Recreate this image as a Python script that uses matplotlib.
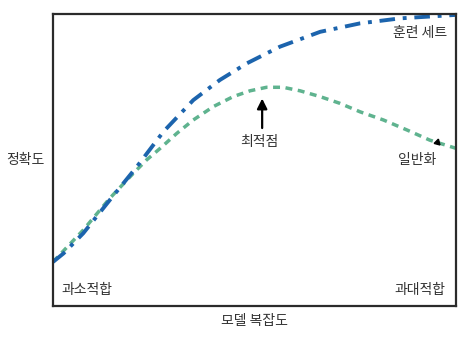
import matplotlib
matplotlib.use("Agg")
import matplotlib.pyplot as plt

plt.rcParams['font.family'] = ['Noto Sans CJK KR', 'DejaVu Sans']

# 모델 복잡도 (0~100) 에 따른 정확도 (0~100)
train_x = [0, 2.6, 7.5, 14.1, 20.8, 27.4, 34.8, 41.4, 48.1, 56.3, 66.3, 76.2, 86.1, 100]
train_y = [15.1, 18.0, 24.9, 36.3, 47.7, 59.7, 70.5, 77.4, 83.1, 88.8, 93.9, 96.8, 98.5, 99.7]

gen_x = [0, 7.5, 14.1, 19.9, 23.2, 26.6, 30.7, 34.8, 39.8, 44.7, 48.9, 53.0, 57.1,
         61.3, 66.3, 71.2, 76.2, 82.0, 87.8, 93.5, 100]
gen_y = [15.1, 26.0, 36.9, 45.4, 50.0, 54.0, 59.1, 63.7, 68.3, 71.7, 73.7, 74.9, 74.9,
         73.7, 71.7, 69.4, 66.5, 63.7, 60.3, 56.8, 54.0]

best_x, best_y = 51.9, 74.5

fig = plt.figure(figsize=(4.74, 3.41), dpi=100)
ax = fig.add_axes([53 / 474, 35 / 341, 403 / 474, 292 / 341])

ax.plot(gen_x, gen_y, color='#5fb38f', lw=2.5, ls=(0, (2.0, 1.6)))
ax.plot(train_x, train_y, color='#1c64ad', lw=2.8, ls=(0, (4, 2, 1, 2)))

ax.set_xlim(0, 100)
ax.set_ylim(0, 100)
ax.set_xticks([])
ax.set_yticks([])
for s in ax.spines.values():
    s.set_linewidth(1.6)
    s.set_color('#2b2b2b')

# 최적점 화살표
ax.annotate('', xy=(best_x, best_y - 2.5), xytext=(best_x, 60),
            arrowprops=dict(arrowstyle='-|>', color='black', lw=1.6,
                            mutation_scale=15))
ax.text(best_x - 0.8, 56, '최적점', ha='center', va='center', fontsize=10, color='#333333')

# 일반화 곡선 위 작은 화살촉 (오른쪽 아래 방향)
ax.plot([95.3], [56.3], marker=(3, 0, -135), ms=5, color='black', ls='none')

txt = dict(fontsize=10, color='#333333', va='center')
ax.text(97.8, 93.5, '훈련 세트', ha='right', **txt)
ax.text(90.4, 50, '일반화', ha='center', **txt)
ax.text(2.2, 5.5, '과소적합', ha='left', **txt)
ax.text(97.3, 5.5, '과대적합', ha='right', **txt)

ax.set_xlabel('모델 복잡도', fontsize=10, color='#333333', labelpad=6)
ax.set_ylabel('정확도', fontsize=10, color='#333333', rotation=0,
              labelpad=20, va='center')

fig.savefig('out.png', dpi=100)
